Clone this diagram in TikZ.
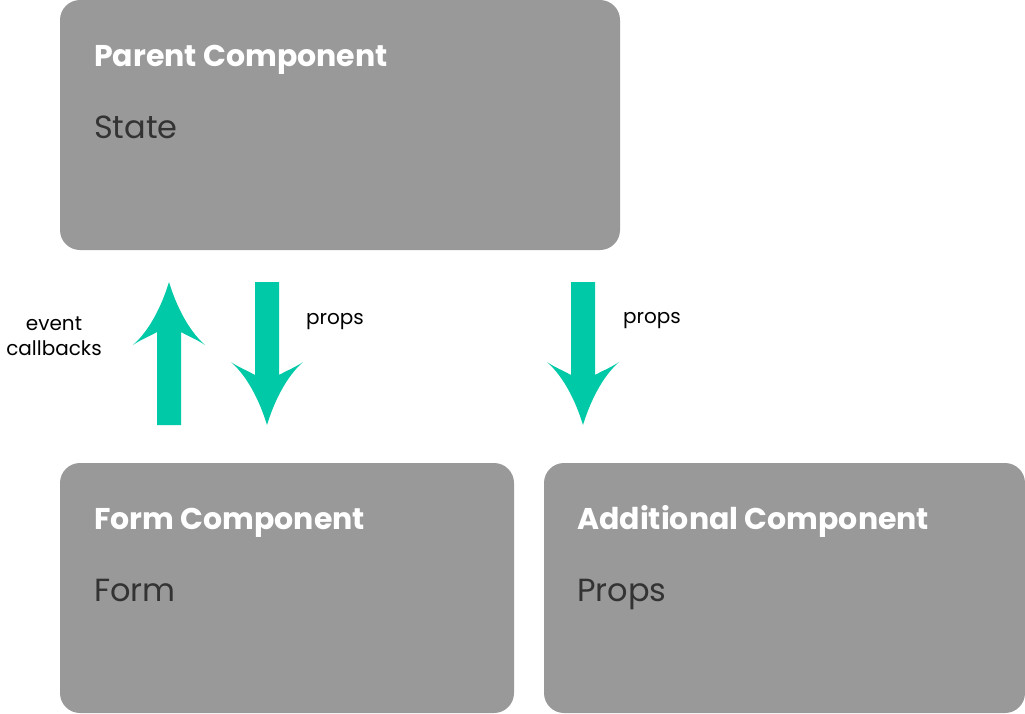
\documentclass[tikz,border=0pt]{standalone}
\usepackage{fontspec}
\setmainfont{Poppins}
\definecolor{boxgray}{HTML}{999999}
\definecolor{teal}{HTML}{00C9A7}
\definecolor{dark}{HTML}{333333}
\begin{document}
\begin{tikzpicture}[x=1pt,y=-1pt,
  box/.style={fill=boxgray,rounded corners=20pt},
  ttl/.style={anchor=base west,text=white,font=\fontsize{30}{34}\selectfont\bfseries,inner sep=0},
  sub/.style={anchor=base west,text=dark,font=\fontsize{32}{36}\selectfont,inner sep=0},
  lbl/.style={text=black,font=\fontsize{20}{25}\selectfont,align=center,inner sep=0}]
\useasboundingbox (0,0) rectangle (1025,713);
\fill[box] (60,0) rectangle (620,250);
\fill[box] (60,463) rectangle (514,713);
\fill[box] (544,463) rectangle (1025,713);
\node[ttl] (pt) at (94,66) {Parent Component};
\node[sub] (ps) at (94,138) {State};
\node[ttl] (ft) at (94,529) {Form Component};
\node[sub] (fs) at (94,601) {Form};
\node[ttl] (at) at (577,529) {Additional Component};
\node[sub] (as) at (577,601) {Props};
% up arrow
\fill[teal] (157,425) -- (157,332) .. controls (150,336) and (140,340) .. (133,345)
  .. controls (150,330) and (162,305) .. (169,282)
  .. controls (176,305) and (188,330) .. (205,345)
  .. controls (198,340) and (188,336) .. (181,332) -- (181,425) -- cycle;
% down arrows
\foreach \cx in {267,583}{
\fill[teal] (\cx-12,282) -- (\cx-12,375) .. controls (\cx-19,371) and (\cx-29,367) .. (\cx-36,362)
  .. controls (\cx-19,377) and (\cx-7,402) .. (\cx,425)
  .. controls (\cx+7,402) and (\cx+19,377) .. (\cx+36,362)
  .. controls (\cx+29,367) and (\cx+19,371) .. (\cx+12,375) -- (\cx+12,282) -- cycle;}
\node[lbl] (ev) at (54,336) {event\\callbacks};
\node[lbl] (p1) at (335,322) {props};
\node[lbl] (p2) at (652,321) {props};
\end{tikzpicture}
\end{document}
